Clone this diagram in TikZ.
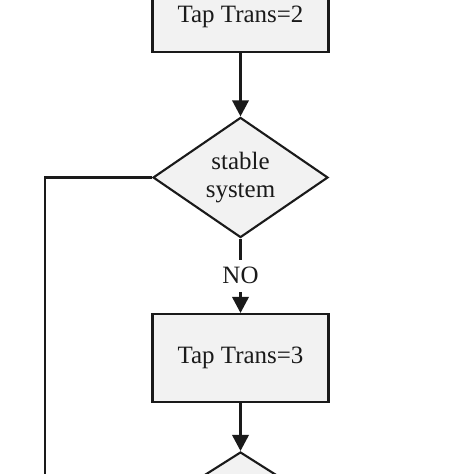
\documentclass[tikz,border=0pt]{standalone}
\usepackage{fontspec}
\setmainfont{Liberation Serif}
\usetikzlibrary{arrows.meta,shapes.geometric}
\definecolor{FCFill}{HTML}{F2F2F2}
\definecolor{FCInk}{HTML}{1A1A1A}
\tikzset{
  flow/.style={-{Triangle[length=3.2mm,width=3.3mm]},FCInk,line width=1.2pt},
  wire/.style={FCInk,line width=1.2pt},
  procbox/.style={draw=FCInk,line width=1.2pt,fill=FCFill,text=FCInk,
                  minimum width=3.52cm,minimum height=1.76cm,align=center,
                  font=\fontsize{14.2}{16}\selectfont},
  decide/.style={diamond,draw=FCInk,line width=1.2pt,fill=FCFill,text=FCInk,
                 minimum width=3.5cm,minimum height=2.22cm,inner sep=0pt,
                 align=center,font=\fontsize{14.2}{16}\selectfont},
  edgelabel/.style={fill=white,text=FCInk,inner sep=1.5mm,
                    font=\fontsize{14.2}{16}\selectfont},
}
\begin{document}
\begin{tikzpicture}
    \clip (0,0) rectangle (9.48,9.48);
    \useasboundingbox (0,0) rectangle (9.48,9.48);

    \node[procbox,minimum height=1.4cm] (tap2) at (4.81,9.14) {Tap Trans=2};
    \node[decide] (stable) at (4.81,5.93) {stable\\system};
    \node[procbox] (tap3) at (4.81,2.32) {Tap Trans=3};
    \node[decide] (next) at (4.81,-0.67) {};
    \coordinate (back) at (0.9,-1.5);

    \draw[flow] (tap2) -- (stable);
    \draw[flow] (stable) -- node[edgelabel] (no) {NO} (tap3);
    \draw[flow] (tap3) -- (next);
    \draw[wire] (stable.west) -| (back);
\end{tikzpicture}
\end{document}
